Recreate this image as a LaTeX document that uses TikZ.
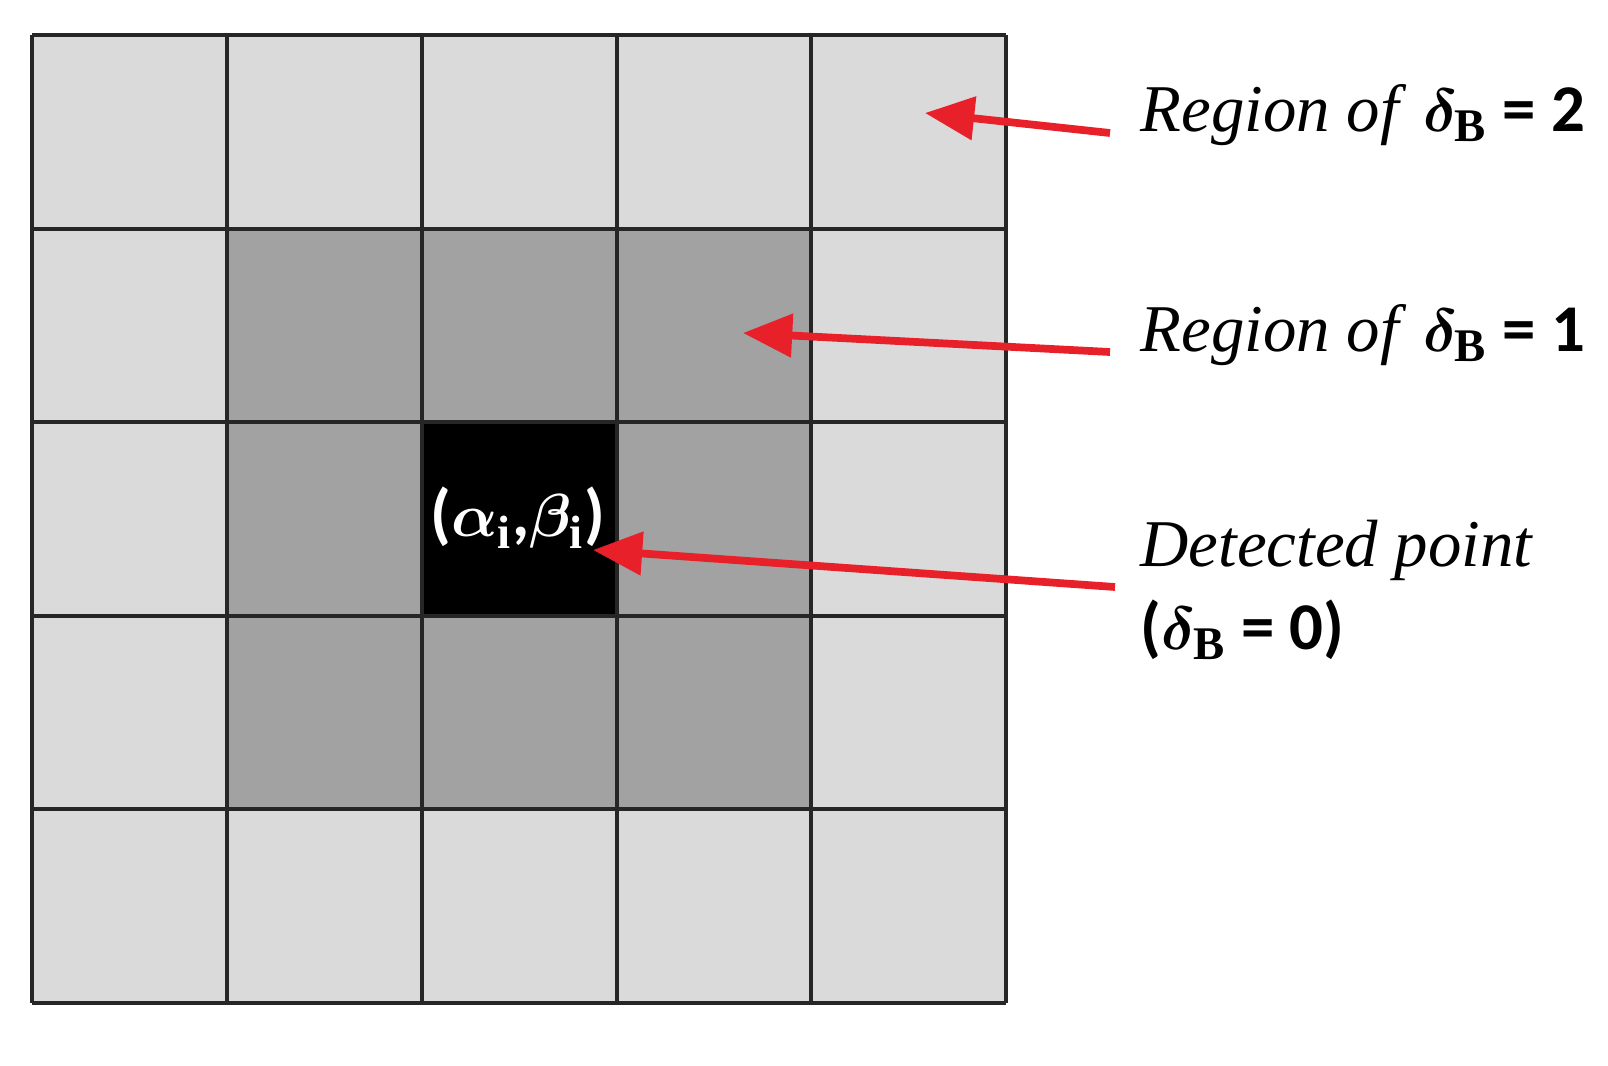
\documentclass[tikz,border=0pt]{standalone}
\usepackage{fontspec}
\setmainfont{Liberation Serif}
\newfontfamily\lblsans{Carlito}
\usetikzlibrary{arrows.meta}
\definecolor{lightg}{HTML}{DADADA}
\definecolor{darkg}{HTML}{A2A2A2}
\definecolor{arr}{HTML}{E8202A}
\tikzset{
  lbl/.style={anchor=west,inner sep=0pt,font=\fontsize{19}{22}\selectfont},
  redarrow/.style={draw=arr,line width=2.2pt,-{Triangle[length=14pt,width=12pt]}}
}
\newcommand{\dB}{\textbf{\lblsans\ensuremath{\boldsymbol{\delta}}\textsubscript{B}}}
\usepackage{amsmath,bm}
\begin{document}
\begin{tikzpicture}[x=0.01cm,y=-0.01cm]
\useasboundingbox (0,0) rectangle (1608,1066);
\fill[lightg] (32,35) rectangle (1006,1003);
\fill[darkg] (227,229) rectangle (811,809);
\fill[black] (422,422) rectangle (617,616);
\foreach \v in {32,227,422,617,811,1006}{
  \draw[line width=1.2pt,black!85] (\v,35) -- (\v,1003);
}
\foreach \v in {35,229,422,616,809,1003}{
  \draw[line width=1.2pt,black!85] (32,\v) -- (1006,\v);
}
\node[text=white,font=\lblsans\bfseries\fontsize{19}{22}\selectfont] (pt) at (518,518) {($\boldsymbol{\alpha}_{\mathbf{i}}$,$\boldsymbol{\beta}_{\mathbf{i}}$)};
\node[lbl] (l2) at (1140,115) {\textit{Region of} {\lblsans\bfseries $\boldsymbol{\delta}_{\mathbf{B}}$ = 2}};
\node[lbl] (l1) at (1140,335) {\textit{Region of} {\lblsans\bfseries $\boldsymbol{\delta}_{\mathbf{B}}$ = 1}};
\node[lbl] (l0) at (1140,550) {\textit{Detected point}};
\node[lbl] (l0b) at (1140,630) {\lblsans\bfseries ($\boldsymbol{\delta}_{\mathbf{B}}$ = 0)};
\coordinate (t2) at (925,113);
\coordinate (t1) at (743,333);
\coordinate (t0) at (593,550);
\coordinate (s2) at (1110,133);
\coordinate (s1) at (1110,352);
\coordinate (s0) at (1115,587);
\draw[redarrow] (s2) -- (t2);
\draw[redarrow] (s1) -- (t1);
\draw[redarrow] (s0) -- (t0);
\end{tikzpicture}
\end{document}
